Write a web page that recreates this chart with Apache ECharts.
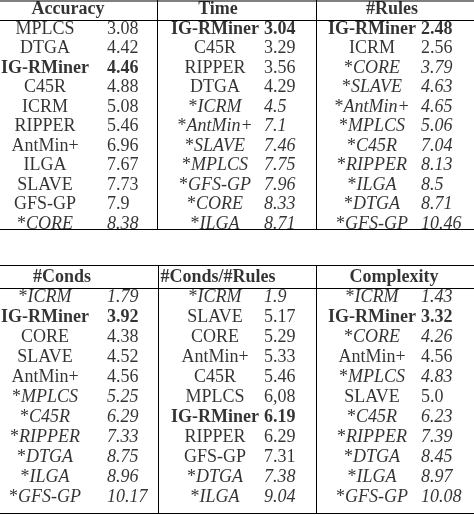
<!DOCTYPE html>
<html><head><meta charset="utf-8">
<script src="https://cdn.jsdelivr.net/npm/echarts@6/dist/echarts.min.js"></script>
<style>html,body{margin:0;padding:0;background:#fff}#c{width:474px;height:515px}</style>
</head><body><div id="c"></div>
<script>
const topHeaders = ['Accuracy','Time','#Rules'];
const botHeaders = ['#Conds','#Conds/#Rules','Complexity'];
const accNames = ['MPLCS','DTGA','IG-RMiner','C45R','ICRM','RIPPER','AntMin+','ILGA','SLAVE','GFS-GP','*CORE'];
const accVals = ['3.08','4.42','4.46','4.88','5.08','5.46','6.96','7.67','7.73','7.9','8.38'];
const timeNames = ['IG-RMiner','C45R','RIPPER','DTGA','*ICRM','*AntMin+','*SLAVE','*MPLCS','*GFS-GP','*CORE','*ILGA'];
const timeVals = ['3.04','3.29','3.56','4.29','4.5','7.1','7.46','7.75','7.96','8.33','8.71'];
const rulesNames = ['IG-RMiner','ICRM','*CORE','*SLAVE','*AntMin+','*MPLCS','*C45R','*RIPPER','*ILGA','*DTGA','*GFS-GP'];
const rulesVals = ['2.48','2.56','3.79','4.63','4.65','5.06','7.04','8.13','8.5','8.71','10.46'];
const condsNames = ['*ICRM','IG-RMiner','CORE','SLAVE','AntMin+','*MPLCS','*C45R','*RIPPER','*DTGA','*ILGA','*GFS-GP'];
const condsVals = ['1.79','3.92','4.38','4.52','4.56','5.25','6.29','7.33','8.75','8.96','10.17'];
const cprNames = ['*ICRM','SLAVE','CORE','AntMin+','C45R','MPLCS','IG-RMiner','RIPPER','GFS-GP','*DTGA','*ILGA'];
const cprVals = ['1.9','5.17','5.29','5.33','5.46','6,08','6.19','6.29','7.31','7.38','9.04'];
const cplxNames = ['*ICRM','IG-RMiner','*CORE','AntMin+','*MPLCS','SLAVE','*C45R','*RIPPER','*DTGA','*ILGA','*GFS-GP'];
const cplxVals = ['1.43','3.32','4.26','4.56','4.83','5.0','6.23','7.39','8.45','8.97','10.08'];
const rowCats = ['h','0','1','2','3','4','5','6','7','8','9','10'];
const colCats = ['0','1','2'];

const FONT = 'Liberation Serif';
const nameOff = [-34,-22,-23], valOff = [28,27,26], headOff = [[-11,-19,-3],[-17,-19,-1]];
const rich = {
  n:{fontFamily:FONT,fontSize:18,color:'#000'},
  b:{fontFamily:FONT,fontSize:18,color:'#000',fontWeight:'bold'},
  i:{fontFamily:FONT,fontSize:18,color:'#000',fontStyle:'italic'}
};
function nameLabel(s){
  if(s==='IG-RMiner') return '{b|'+s+'}';
  if(s[0]==='*') return '{n|*}{i|'+s.slice(1)+'}';
  return '{n|'+s+'}';
}
function valLabel(v,name){
  if(name==='IG-RMiner') return '{b|'+v+'}';
  if(name[0]==='*') return '{i|'+v+'}';
  return '{n|'+v+'}';
}
function tableSeries(gi, headers, namesArr, valsArr){
  const s=[];
  headers.forEach((h,c)=>{
    s.push({type:'scatter',xAxisIndex:gi,yAxisIndex:gi,symbolSize:0,silent:true,
      data:[[c,0]],label:{show:true,position:'inside',offset:[headOff[gi][c],0],formatter:'{b|'+h+'}',rich}});
    s.push({type:'scatter',xAxisIndex:gi,yAxisIndex:gi,symbolSize:0,silent:true,
      data:namesArr[c].map((n,r)=>({value:[c,r+1],label:{formatter:nameLabel(n)}})),
      label:{show:true,position:'inside',align:'center',offset:[nameOff[c],0],rich}});
    s.push({type:'scatter',xAxisIndex:gi,yAxisIndex:gi,symbolSize:0,silent:true,
      data:valsArr[c].map((v,r)=>({value:[c,r+1],label:{formatter:valLabel(v,namesArr[c][r])}})),
      label:{show:true,position:'inside',align:'left',offset:[valOff[c],0],rich}});
  });
  return s;
}
const ax = {show:false};
const chart = echarts.init(document.getElementById('c'));
const L = (x1,y1,x2,y2)=>({type:'line',shape:{x1,y1,x2,y2},style:{stroke:'#000',lineWidth:1}});
chart.setOption({
  animation:false,
  grid:[{left:0,width:474,top:0,height:234},{left:0,width:474,top:267,height:240}],
  xAxis:[{type:'category',data:colCats,gridIndex:0,...ax},{type:'category',data:colCats,gridIndex:1,...ax}],
  yAxis:[{type:'category',data:rowCats,inverse:true,gridIndex:0,...ax},{type:'category',data:rowCats,inverse:true,gridIndex:1,...ax}],
  series:[...tableSeries(0,topHeaders,[accNames,timeNames,rulesNames],[accVals,timeVals,rulesVals]),
          ...tableSeries(1,botHeaders,[condsNames,cprNames,cplxNames],[condsVals,cprVals,cplxVals])],
  graphic:[L(0,1,474,1),L(0,20.5,474,20.5),L(0,229.5,474,229.5),L(157.5,0,157.5,230),L(316.5,0,316.5,230),
           L(0,265.5,474,265.5),L(0,288.5,474,288.5),L(0,513.5,474,513.5),L(158.5,265,158.5,514),L(316.5,265,316.5,514)]
});
</script></body></html>
